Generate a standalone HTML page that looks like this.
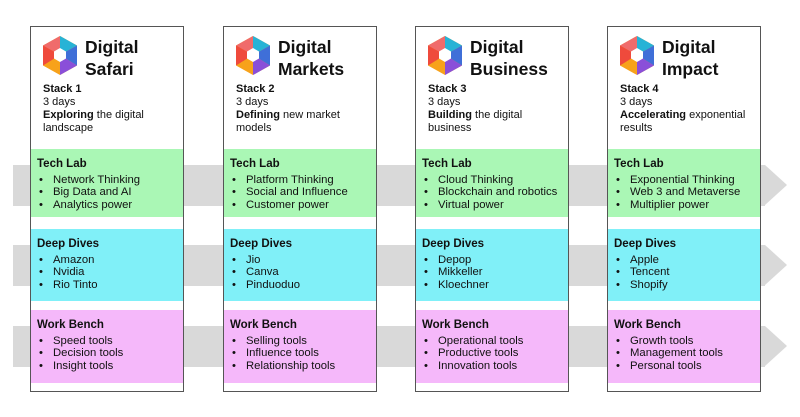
<!DOCTYPE html><html><head><style>
body{margin:0;width:800px;height:417px;background:#fff;position:relative;font-family:"Liberation Sans",sans-serif;overflow:hidden}
.band{position:absolute;left:13px;width:752px;height:41px;background:#d9d9d9}
.tip{position:absolute;left:765px;width:0;height:0;border-top:20.5px solid transparent;border-bottom:20.5px solid transparent;border-left:22px solid #d9d9d9}
.col{position:absolute;top:26px;width:152px;height:364px;border:1px solid #555;background:#fff}
.logo{position:absolute;left:12px;top:9px}
.title{position:absolute;left:54px;top:9px;font-size:17.5px;font-weight:bold;line-height:22px;color:#111}
.info{position:absolute;left:12px;top:56px;font-size:11px;line-height:13px;color:#111}
.p{position:absolute;left:0;width:152px;font-size:11.3px;line-height:12.6px;color:#111;padding:9px 0 0 6px;box-sizing:border-box}
.p b{display:block;font-size:11.5px;margin-bottom:3px}
.p div{padding-left:2px}
.p div span{display:inline-block;width:14px}
.g{top:122px;height:68px;background:#aaf7b5}
.c{top:202px;height:72px;background:#80f0f8}
.k{top:283px;height:73px;background:#f5b8fa}
</style></head><body>
<div class="band" style="top:165px"></div><div class="tip" style="top:165px"></div>
<div class="band" style="top:245px"></div><div class="tip" style="top:245px"></div>
<div class="band" style="top:326px"></div><div class="tip" style="top:326px"></div>

<svg width="0" height="0" style="position:absolute"><defs>
<g id="lg">
<polygon points="17,0 34,9.5 34,29.5 17,39 0,29.5 0,9.5" fill="#f7a21b"/>
<polygon points="17,0 34,9.5 17,19" fill="#27b3d6"/>
<polygon points="17,0 17,19 0,9.5" fill="#f06b6b"/>
<polygon points="0,9.5 17,19 0,29.5" fill="#ef4a3c"/>
<polygon points="34,9.5 34,29.5 17,19" fill="#3f6fd8"/>
<polygon points="34,29.5 17,39 17,19" fill="#8a4fd9"/>
<polygon points="17,12 23,15.5 23,22.5 17,26 11,22.5 11,15.5" fill="#fff"/>
</g></defs></svg>

<div class="col" style="left:30px">
<svg class="logo" width="34" height="39"><use href="#lg"/></svg>
<div class="title">Digital<br>Safari</div>
<div class="info"><b>Stack 1</b><br>3 days<br><b>Exploring</b> the digital<br>landscape</div>
<div class="p g"><b>Tech Lab</b><div><span>•</span>Network Thinking</div><div><span>•</span>Big Data and AI</div><div><span>•</span>Analytics power</div></div>
<div class="p c"><b>Deep Dives</b><div><span>•</span>Amazon</div><div><span>•</span>Nvidia</div><div><span>•</span>Rio Tinto</div></div>
<div class="p k"><b>Work Bench</b><div><span>•</span>Speed tools</div><div><span>•</span>Decision tools</div><div><span>•</span>Insight tools</div></div>
</div>

<div class="col" style="left:223px">
<svg class="logo" width="34" height="39"><use href="#lg"/></svg>
<div class="title">Digital<br>Markets</div>
<div class="info"><b>Stack 2</b><br>3 days<br><b>Defining</b> new market<br>models</div>
<div class="p g"><b>Tech Lab</b><div><span>•</span>Platform Thinking</div><div><span>•</span>Social and Influence</div><div><span>•</span>Customer power</div></div>
<div class="p c"><b>Deep Dives</b><div><span>•</span>Jio</div><div><span>•</span>Canva</div><div><span>•</span>Pinduoduo</div></div>
<div class="p k"><b>Work Bench</b><div><span>•</span>Selling tools</div><div><span>•</span>Influence tools</div><div><span>•</span>Relationship tools</div></div>
</div>

<div class="col" style="left:415px">
<svg class="logo" width="34" height="39"><use href="#lg"/></svg>
<div class="title">Digital<br>Business</div>
<div class="info"><b>Stack 3</b><br>3 days<br><b>Building</b> the digital<br>business</div>
<div class="p g"><b>Tech Lab</b><div><span>•</span>Cloud Thinking</div><div><span>•</span>Blockchain and robotics</div><div><span>•</span>Virtual power</div></div>
<div class="p c"><b>Deep Dives</b><div><span>•</span>Depop</div><div><span>•</span>Mikkeller</div><div><span>•</span>Kloechner</div></div>
<div class="p k"><b>Work Bench</b><div><span>•</span>Operational tools</div><div><span>•</span>Productive tools</div><div><span>•</span>Innovation tools</div></div>
</div>

<div class="col" style="left:607px">
<svg class="logo" width="34" height="39"><use href="#lg"/></svg>
<div class="title">Digital<br>Impact</div>
<div class="info"><b>Stack 4</b><br>3 days<br><b>Accelerating</b> exponential<br>results</div>
<div class="p g"><b>Tech Lab</b><div><span>•</span>Exponential Thinking</div><div><span>•</span>Web 3 and Metaverse</div><div><span>•</span>Multiplier power</div></div>
<div class="p c"><b>Deep Dives</b><div><span>•</span>Apple</div><div><span>•</span>Tencent</div><div><span>•</span>Shopify</div></div>
<div class="p k"><b>Work Bench</b><div><span>•</span>Growth tools</div><div><span>•</span>Management tools</div><div><span>•</span>Personal tools</div></div>
</div>
</body></html>
